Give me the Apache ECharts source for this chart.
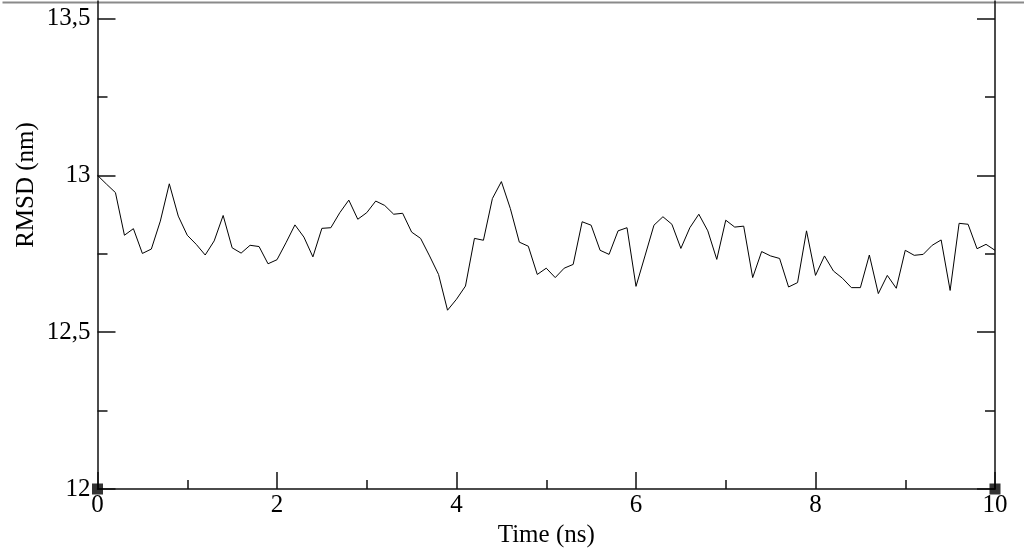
<!DOCTYPE html>
<html>
<head>
<meta charset="utf-8">
<script src="https://cdn.jsdelivr.net/npm/echarts@6/dist/echarts.min.js"></script>
<style>
html,body{margin:0;padding:0;background:#fff;}
#chart{width:1024px;height:555px;}
</style>
</head>
<body>
<div id="chart"></div>
<script>
// Time (ns)
var times = [];
for (var i = 0; i <= 100; i++) { times.push(+(i / 10).toFixed(1)); }
// RMSD (nm)
var rmsd = [
  13.000, 12.972, 12.945, 12.809, 12.830, 12.751, 12.765, 12.854, 12.973, 12.870,
  12.809, 12.780, 12.746, 12.791, 12.872, 12.769, 12.752, 12.777, 12.773, 12.718,
  12.731, 12.785, 12.842, 12.803, 12.740, 12.831, 12.833, 12.881, 12.921, 12.860,
  12.881, 12.918, 12.904, 12.876, 12.879, 12.819, 12.799, 12.743, 12.684, 12.570,
  12.605, 12.647, 12.799, 12.793, 12.926, 12.980, 12.894, 12.787, 12.774, 12.684,
  12.704, 12.674, 12.704, 12.716, 12.852, 12.841, 12.761, 12.748, 12.823, 12.833,
  12.646, 12.743, 12.841, 12.868, 12.844, 12.767, 12.833, 12.876, 12.823, 12.732,
  12.857, 12.835, 12.838, 12.674, 12.757, 12.743, 12.735, 12.644, 12.658, 12.823,
  12.681, 12.743, 12.695, 12.672, 12.642, 12.642, 12.746, 12.623, 12.681, 12.640,
  12.761, 12.745, 12.748, 12.777, 12.794, 12.633, 12.847, 12.844, 12.766, 12.780,
  12.761
];
var xMajorTicks = [0, 2, 4, 6, 8, 10];
var yMajorTicks = [12, 12.5, 13, 13.5];
var yMinorTicks = [12.25, 12.75, 13.25];
var cornerPoints = [[0, 12], [10, 12]];

var FONT = 'Liberation Serif';
var YMIN = 12, YMAX = 13.5558;
var axisLineStyle = { color: '#111', width: 1.5 };

function fmt(v) { return String(v).replace('.', ','); }

var chart = echarts.init(document.getElementById('chart'), null, { renderer: 'canvas' });
chart.setOption({
  animation: false,
  backgroundColor: '#ffffff',
  grid: { left: 97.5, right: 29, top: 1, bottom: 66, containLabel: false, outerBoundsMode: 'none' },
  xAxis: [{
    type: 'value', min: 0, max: 10, interval: 2, position: 'bottom',
    name: 'Time (ns)', nameLocation: 'middle', nameGap: 34, nameMoveOverlap: false,
    nameTextStyle: { fontFamily: FONT, fontSize: 25, color: '#000' },
    axisLine: { show: true, onZero: false, lineStyle: axisLineStyle },
    axisTick: { show: true, inside: true, length: 17, lineStyle: axisLineStyle, customValues: xMajorTicks },
    minorTick: { show: true, splitNumber: 2, length: 9, lineStyle: axisLineStyle },
    axisLabel: { fontFamily: FONT, fontSize: 25, color: '#000', margin: 4, formatter: fmt, customValues: xMajorTicks },
    splitLine: { show: false }
  }],
  yAxis: [{
    type: 'value', min: YMIN, max: YMAX, position: 'left',
    name: 'RMSD (nm)', nameLocation: 'middle', nameGap: 59, nameRotate: 90, nameMoveOverlap: false,
    nameTextStyle: { fontFamily: FONT, fontSize: 25, color: '#000', padding: [0, 0, 0, 120] },
    axisLine: { show: true, onZero: false, lineStyle: axisLineStyle },
    axisTick: { show: true, inside: true, length: 18, lineStyle: axisLineStyle, customValues: yMajorTicks },
    axisLabel: { fontFamily: FONT, fontSize: 25, color: '#000', margin: 7, formatter: fmt, customValues: yMajorTicks },
    splitLine: { show: false }
  }, {
    type: 'value', min: YMIN, max: YMAX, position: 'left',
    axisLine: { show: false },
    axisTick: { show: true, inside: true, length: 10, lineStyle: axisLineStyle, customValues: yMinorTicks },
    axisLabel: { show: false },
    splitLine: { show: false }
  }, {
    type: 'value', min: YMIN, max: YMAX, position: 'right',
    axisLine: { show: true, onZero: false, lineStyle: axisLineStyle },
    axisTick: { show: true, inside: true, length: 18, lineStyle: axisLineStyle, customValues: yMajorTicks },
    axisLabel: { show: false },
    splitLine: { show: false }
  }, {
    type: 'value', min: YMIN, max: YMAX, position: 'right',
    axisLine: { show: false },
    axisTick: { show: true, inside: true, length: 10, lineStyle: axisLineStyle, customValues: yMinorTicks },
    axisLabel: { show: false },
    splitLine: { show: false }
  }],
  graphic: [{
    type: 'line', left: 0, top: 0,
    shape: { x1: 0, y1: 1, x2: 1024, y2: 1 },
    style: { stroke: '#8a8a8a', lineWidth: 2 },
    silent: true
  }],
  series: [{
    type: 'line',
    data: times.map(function (t, i) { return [t, rmsd[i]]; }),
    showSymbol: false,
    lineStyle: { color: '#000', width: 1 },
    clip: false,
    z: 3
  }, {
    type: 'scatter',
    data: cornerPoints,
    symbol: 'rect',
    symbolSize: 11,
    itemStyle: { color: '#000' },
    clip: false,
    z: 4
  }]
});
</script>
</body>
</html>
